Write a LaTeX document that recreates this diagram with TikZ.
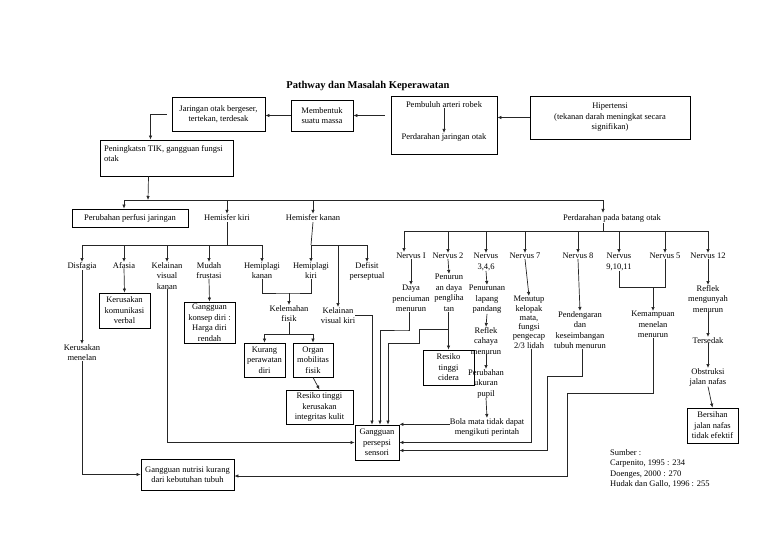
\documentclass[tikz,border=0pt]{standalone}
\usepackage{fontspec}
\setmainfont{Liberation Serif}
\usetikzlibrary{arrows.meta,calc}
\begin{document}
\begin{tikzpicture}[x=1pt,y=-1pt,
  fs/.style={font=\fontsize{8.5}{10.5}\selectfont},
  t/.style={fs,align=center,inner sep=0pt,anchor=north},
  b/.style={fs,draw,line width=0.8pt,align=center,inner sep=1pt},
  l/.style={line width=0.7pt,draw=black!85},
  a/.style={l,-{Latex[length=4pt,width=3.5pt]}}]
\useasboundingbox (0,0) rectangle (768,543);
\node[font=\fontsize{10.5}{12}\selectfont\bfseries] (title) at (368,86) {Pathway dan Masalah Keperawatan};
% top row
\node[b,minimum width=160,minimum height=43] (hip) at (610,117.5) {Hipertensi\\(tekanan darah meningkat secara\\signifikan)};
\node[b,minimum width=106,minimum height=58] (pem) at (444,125) {};
\node[fs,inner sep=0pt] (pem1) at (444,105) {Pembuluh arteri robek};
\node[fs,inner sep=0pt] (pem2) at (444,137) {Perdarahan jaringan otak};
\node[b,minimum width=62,minimum height=31] (mem) at (322,115.5) {Membentuk\\suatu massa};
\node[b,minimum width=93,minimum height=34] (jar) at (218.5,114) {Jaringan otak bergeser,\\tertekan, terdesak};
\node[b,minimum width=133,minimum height=36] (pen) at (166.5,158) {};
\node[fs,align=left,anchor=north west,inner sep=0pt] (pent) at (104,145) {Peningkatsn TIK, gangguan fungsi\\otak};
\draw[a] (pem1) -- (pem2);
\draw[a] (hip.west) -- (hip.west -| pem.east);
\draw[a] ([xshift=-6pt]pem.west |- mem.east) -- (mem.east);
\draw[a] (mem.west) -- (mem.west -| jar.east);
\draw[a] ([xshift=-5pt]jar.west) -| ([xshift=-16pt]pen.north);
% level 2
\node[b,minimum width=116,minimum height=18] (per) at (130,218) {Perubahan perfusi jaringan};
\node[fs,inner sep=1pt] (hki) at (227,218) {Hemisfer kiri};
\node[fs,inner sep=1pt] (hka) at (313,218) {Hemisfer kanan};
\node[fs,inner sep=1pt] (pbo) at (612,218) {Perdarahan pada batang otak};
\coordinate (b1) at (148,200);
\coordinate (b1l) at (124,200);
\coordinate (b1r) at (603,200);
\draw[a] ([xshift=-18pt]pen.south) -- (b1);
\draw[l] (b1l) -- (b1r);
\draw[a] (b1l) -- (b1l |- per.north);
\draw[a] (b1 -| hki.north) -- (hki.north);
\draw[a] (b1 -| hka.north) -- (hka.north);
\draw[a] (b1r) -- (b1r |- pbo.north);
% hemisfer kiri
\node[t] (dis) at (82,262) {Disfagia};
\node[t] (afa) at (124,262) {Afasia};
\node[t] (kvk) at (167,262) {Kelainan\\visual\\kanan};
\node[t] (mud) at (209,262) {Mudah\\frustasi};
\node[t] (hpk) at (262,262) {Hemiplagi\\kanan};
\node[t] (hpi) at (311,262) {Hemiplagi\\kiri};
\node[t] (def) at (367,262) {Defisit\\perseptual};
\node[t] (kvi) at (338,307) {Kelainan\\visual kiri};
\coordinate (hkb) at (227,245);
\coordinate (hab) at (311,245);
\draw[l] (hki.south) -- (hkb);
\draw[l] (hkb -| dis.north) -- (hkb -| hpk.north);
\foreach \n in {dis,afa,kvk,mud,hpk} \draw[a] (hkb -| \n.north) -- (\n.north);
\draw[l] (hka.south) -- (hab);
\draw[l] (hab) -- (hab -| def.north);
\foreach \n in {hpi,def,kvi} \draw[a] (hab -| \n.north) -- (\n.north);
\node[t] (ker) at (82,344) {Kerusakan\\menelan};
\node[b,minimum width=51,minimum height=35] (kom) at (124.5,310.5) {Kerusakan\\komunikasi\\verbal};
\node[b,minimum width=51,minimum height=41] (kon) at (209.5,322.5) {Gangguan\\konsep diri :\\Harga diri\\rendah};
\node[t] (kfs) at (289,305) {Kelemahan\\fisik};
\node[b,minimum width=41,minimum height=34] (kur) at (264.5,360) {Kurang\\perawatan\\diri};
\node[b,minimum width=40,minimum height=34] (org) at (313,360) {Organ\\mobilitas\\fisik};
\node[b,minimum width=67,minimum height=34] (res) at (319.5,407) {Resiko tinggi\\kerusakan\\integritas kulit};
\node[b,minimum width=44,minimum height=35] (gps) at (377,442.5) {Gangguan\\persepsi\\sensori};
\node[b,minimum width=93,minimum height=31] (gnu) at (187.5,474.5) {Gangguan nutrisi kurang\\dari kebutuhan tubuh};
\draw[a] (dis.south) -- (ker.north);
\draw[a] (ker.south) |- (gnu.west);
\draw[a] (afa.south) -- (kom.north);
\draw[a] (kvk.south) |- (gps.west);
\draw[a] (mud.south) -- (kon.north);
\coordinate (hj) at (289,293);
\draw[l] (hpk.south) |- (hj) -| (hpi.south);
\draw[a] (hj) -- (kfs.north);
\coordinate (kb) at (289,334);
\draw[l] (kfs.south) -- (kb);
\draw[l] (kb -| kur.north) -- (kb -| org.north);
\draw[a] (kb -| kur.north) -- (kur.north);
\draw[a] (kb -| org.north) -- (org.north);
\draw[a] (org.south) -- (res.north);
\draw[a] (kvi.east) -| ([xshift=-5pt]gps.north);
% nervus
\coordinate (nb) at (603,231);
\draw[l] (pbo.south -| nb) -- (nb);
\node[t] (n1) at (411,253) {Nervus I};
\node[t] (n2) at (448,253) {Nervus 2};
\node[t] (n3) at (486,253) {Nervus\\3,4,6};
\node[t] (n7) at (525,253) {Nervus 7};
\node[t] (n8) at (578,253) {Nervus 8};
\node[t] (n9) at (619,253) {Nervus\\9,10,11};
\node[t] (n5) at (665,253) {Nervus 5};
\node[t] (n12) at (708,253) {Nervus 12};
\draw[l] (nb -| 404,0) -- (nb -| n12.north);
\draw[a] (nb -| 404,0) -- (404,252);
\foreach \n in {n2,n3,n7,n8,n9,n5,n12} \draw[a] (nb -| \n.north) -- (\n.north);
\node[t] (dp) at (411,285) {Daya\\penciuman\\menurun};
\node[t] (pd) at (449,274) {Penurun\\an daya\\pengliha\\tan};
\node[t] (plp) at (487,285) {Penurunan\\lapang\\pandang};
\node[t] (rcm) at (486,327) {Reflek\\cahaya\\menurun};
\node[t] (puk) at (486,369) {Perubahan\\ukuran\\pupil};
\node[t] (bol) at (487,418) {Bola mata tidak dapat\\mengikuti perintah};
\node[t,font=\fontsize{8.5}{9.3}\selectfont] (mtk) at (529,296) {Menutup\\kelopak\\mata,\\fungsi\\pengecap\\2/3 lidah};
\node[t] (pdk) at (580,311) {Pendengaran\\dan\\keseimbangan\\tubuh menurun};
\node[t] (kmm) at (653,311) {Kemampuan\\menelan\\menurun};
\node[t] (rmm) at (708,285) {Reflek\\mengunyah\\menurun};
\node[t] (trs) at (708,337) {Tersedak};
\node[t] (obs) at (708,368) {Obstruksi\\jalan nafas};
\node[b,minimum width=51,minimum height=35] (rtc) at (448.5,367.5) {Resiko\\tinggi\\cidera};
\node[b,minimum width=51,minimum height=35] (ber) at (712.5,425.5) {Bersihan\\jalan nafas\\tidak efektif};
\draw[a] (n1.south) -- (dp.north);
\draw[a] ([xshift=-2pt]dp.south) |- (408,330) -| ([xshift=3pt]gps.north);
\draw[a] (n2.south) -- (pd.north);
\draw[a] (pd.south -| rtc.north) -- (rtc.north);
\coordinate (pdj) at (448.5,329);
\draw[a] (pdj) -- (419,329) -- (419,343) -| ([xshift=11pt]gps.north);
\draw[a] (n3.south) -- (plp.north);
\draw[a] (plp.south) -- (rcm.north);
\draw[a] (rcm.south) -- (puk.north);
\draw[a] (puk.south) -- (bol.north);
\draw[a] ([yshift=3pt]bol.west) -- ([yshift=3pt]bol.west -| gps.east);
\draw[a] (n7.south) -- (mtk.north);
\draw[a] ([xshift=2pt]mtk.south) |- (gps.east);
\draw[a] (n8.south) -- (pdk.north);
\coordinate (c8) at (547,376);
\draw[a] ([xshift=2pt]pdk.south) |- (c8) |- ([yshift=-8pt]gps.east);
\coordinate (c9) at (619,287);
\coordinate (c5) at (665,287);
\draw[l] (n9.south) -- (c9) -- (c5) -- (n5.south);
\draw[a] (kmm.north |- c9) -- (kmm.north);
\coordinate (c5a) at (567,393);
\draw[a] (kmm.south) |- (c5a) |- ([yshift=-1.5pt]gnu.east);
\draw[a] (n12.south) -- (rmm.north);
\draw[a] (rmm.south) -- (trs.north);
\draw[a] (trs.south) -- (obs.north);
\draw[a] (obs.south) -- (ber.north);
\node[fs,align=left,anchor=north west,inner sep=0pt] (src) at (610,449) {Sumber :\\Carpenito, 1995 : 234\\Doenges, 2000 : 270\\Hudak dan Gallo, 1996 : 255};
\end{tikzpicture}
\end{document}
